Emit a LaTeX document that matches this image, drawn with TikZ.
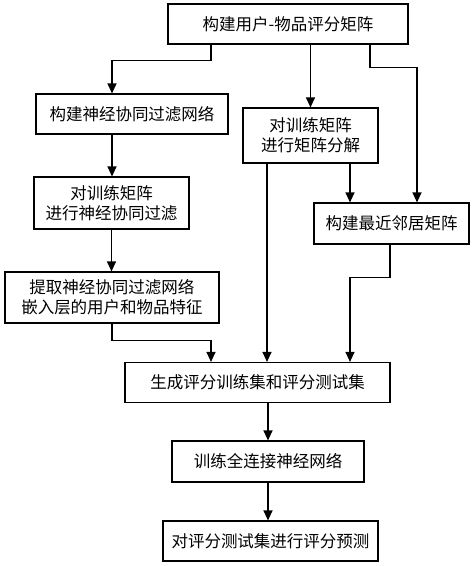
\documentclass[tikz,border=0pt]{standalone}
\usepackage{fontspec}
\setmainfont{Noto Sans CJK SC}
\usetikzlibrary{arrows.meta}
\begin{document}
\begin{tikzpicture}[x=1pt,y=-1pt,
  box/.style={draw,line width=1.2pt,inner sep=0pt,align=center,font=\fontsize{16.5}{20}\selectfont},
  arr/.style={line width=1.2pt,-{Triangle[length=10pt,width=9pt]}}]
\useasboundingbox (0,0) rectangle (474,566);
\node[box,minimum width=240,minimum height=40] (A) at (288,24) {构建用户-物品评分矩阵};
\node[box,minimum width=192,minimum height=40] (B) at (132,114) {构建神经协同过滤网络};
\node[box,minimum width=135,minimum height=55] (C) at (310.5,135.5) {对训练矩阵\\进行矩阵分解};
\node[box,minimum width=155,minimum height=52] (D) at (111.5,203) {对训练矩阵\\进行神经协同过滤};
\node[box,minimum width=155,minimum height=41] (E) at (391.5,223.5) {构建最近邻居矩阵};
\node[box,minimum width=214,minimum height=51] (F) at (112,297.5) {提取神经协同过滤网络\\嵌入层的用户和物品特征};
\node[box,minimum width=265,minimum height=40] (G) at (257.5,382.5) {生成评分训练集和评分测试集};
\node[box,minimum width=192,minimum height=41] (H) at (268,461.5) {训练全连接神经网络};
\node[box,minimum width=215,minimum height=40] (I) at (270.5,541) {对评分测试集进行评分预测};
\draw[arr] ([xshift=-77pt]A.south) -- ++(0,16) -| ([xshift=-20pt]B.north);
\draw[arr] (A.south -| C.north) -- (C.north);
\draw[arr] ([xshift=82pt]A.south) -- ++(0,23) -| ([xshift=25.5pt]E.north);
\draw[arr] ([xshift=-20pt]B.south) -- ([xshift=-20pt]B.south |- D.north);
\draw[arr] ([xshift=39.5pt]C.south) -- ([xshift=39.5pt]C.south |- E.north);
\draw[arr] ([xshift=-43.5pt]C.south) -- ([xshift=-43.5pt]C.south |- G.north);
\draw[arr] (D.south) -- (D.south |- F.north);
\draw[arr] (F.south) -- ++(0,17) -| ([xshift=-46.5pt]G.north);
\draw[arr] ([xshift=-1.5pt]E.south) -- ++(0,33) -| ([xshift=92.5pt]G.north);
\draw[arr] (H.north |- G.south) -- (H.north);
\draw[arr] (H.south) -- (H.south |- I.north);
\end{tikzpicture}
\end{document}
